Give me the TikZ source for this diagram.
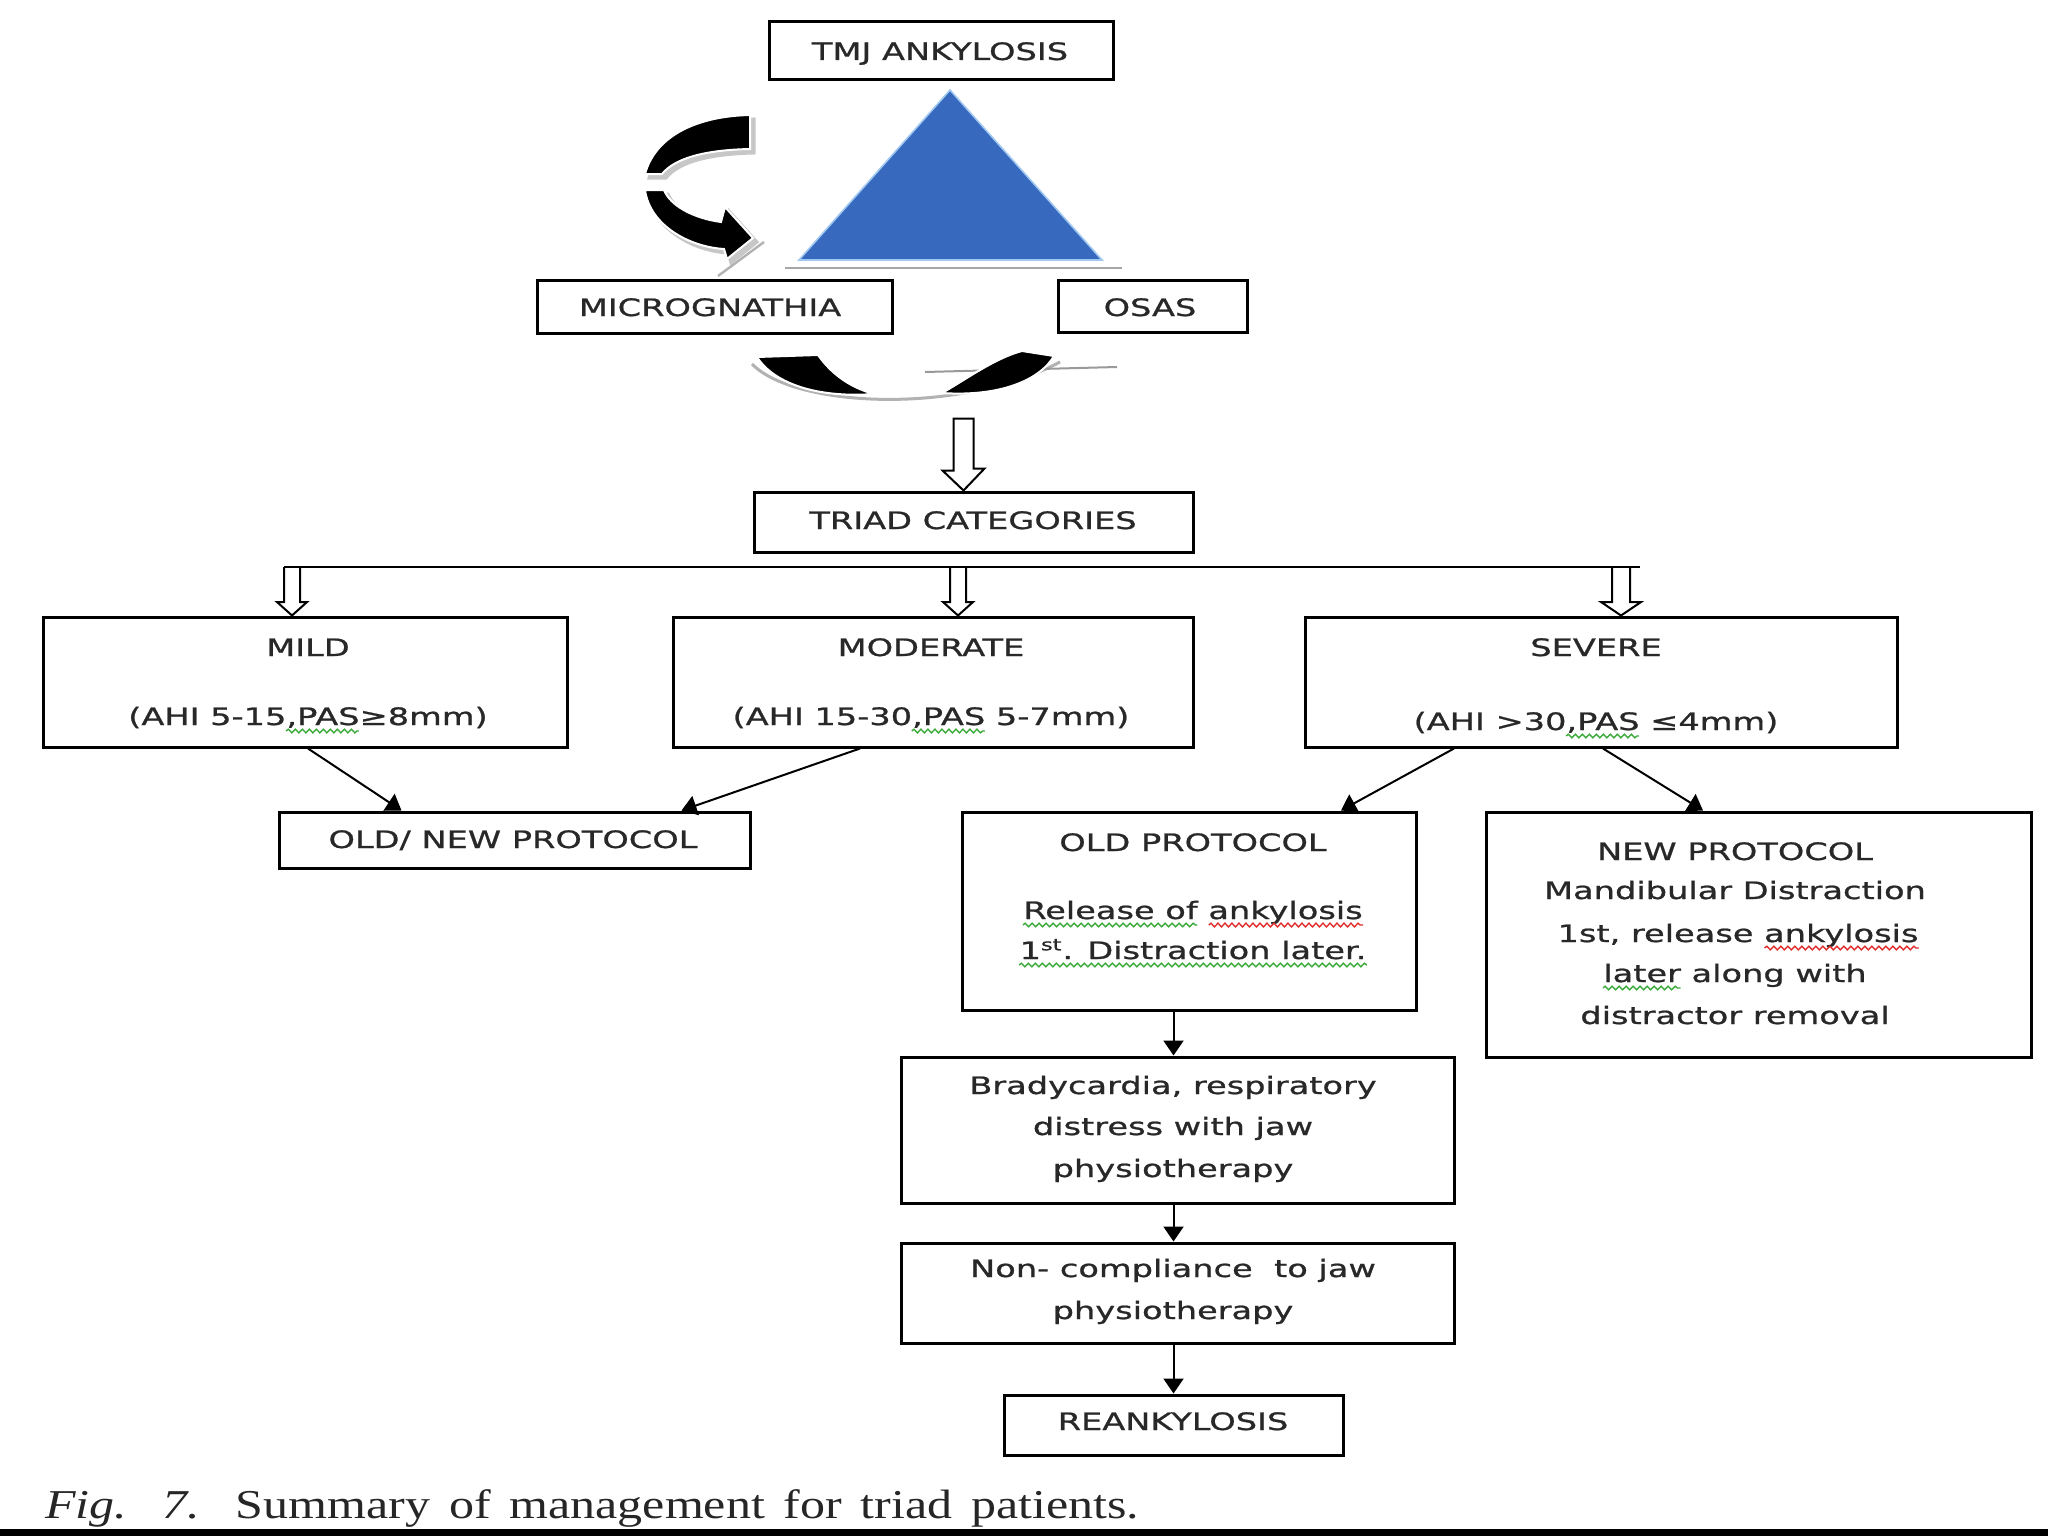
\documentclass[tikz,border=0pt]{standalone}
\usepackage{fontspec}
\newfontfamily\bxfont[FakeStretch=1.4,FakeBold=0.9]{DejaVu Sans}
\newfontfamily\capfont[FakeStretch=1.22]{Liberation Serif}
\usetikzlibrary{arrows.meta,fit,decorations.pathmorphing}
\definecolor{txt}{RGB}{40,40,40}
\definecolor{triblue}{RGB}{55,105,190}
\definecolor{triedge}{RGB}{160,200,240}
\definecolor{sqgreen}{RGB}{60,170,60}
\definecolor{sqred}{RGB}{225,45,45}
\newcommand{\bxsize}{\bxfont\fontsize{12}{20.7}\selectfont}
\newlength\wAnk
\newlength\wRel
\newlength\wLater
\newlength\wMildA
\newlength\wModA
\newlength\wSevA
\newlength\wPas
\begin{document}
\settowidth\wAnk{\bxsize ankylosis}
\settowidth\wRel{\bxsize Release of}
\settowidth\wLater{\bxsize later}
\settowidth\wMildA{\bxsize (AHI 5-15}
\settowidth\wModA{\bxsize (AHI 15-30}
\settowidth\wSevA{\bxsize (AHI >30}
\settowidth\wPas{\bxsize ,PAS}
\begin{tikzpicture}[x=0.5pt,y=-0.5pt,
  box/.style={draw=black, line width=1.5pt, inner sep=0pt, fill=white},
  lbl/.style={font=\bxsize, text=txt, anchor=base, inner sep=0pt},
  conn/.style={draw=black, line width=1pt, -{Triangle[length=7.5pt,width=10pt]}},
  hollow/.style={draw=black, line width=1pt, fill=white, line join=miter},
  blob/.style={fill=black, draw=white, line width=1pt},
  shade/.style={fill=black!22, draw=black!22, line width=1.5pt},
  squig/.style={decorate, decoration={snake, amplitude=0.9pt, segment length=3.5pt}, line width=0.7pt}
]
\useasboundingbox (0,0) rectangle (2048,1536);
\fill[white] (0,0) rectangle (2048,1536);

% ---------- top triad ----------
\node[box, fit={(769,22)(1113,80)}] (tmj) {};
\node[lbl] (tmjT) at (940,60) {TMJ ANKYLOSIS};

\draw[black!35, line width=1.2pt] (785,268) -- (1122,268);
\filldraw[fill=triblue, draw=triedge, line width=0.8pt] (950,90) -- (1102,260) -- (799,260) -- cycle;

\node[box, fit={(537,280)(892,333)}] (micro) {};
\node[lbl] (microT) at (710,316) {MICROGNATHIA};
\node[box, fit={(1058,280)(1247,332)}] (osas) {};
\node[lbl] (osasT) at (1150,316) {OSAS};

% curved arrow, upper left (shadow then body)
\begin{scope}[shift={(4,4)}]
  \path[shade] (750,115) .. controls (700,116) and (656,134) .. (645,174) -- (662,174) .. controls (675,158) and (705,150) .. (750,149) -- cycle;
  \path[shade] (645,190) .. controls (650,226) and (690,247) .. (724,249) -- (727,259) -- (753,238) -- (725,207) -- (721,222) .. controls (692,218) and (670,205) .. (664,190) -- cycle;
\end{scope}
\path[blob] (750,115) .. controls (700,116) and (656,134) .. (645,174) -- (662,174) .. controls (675,158) and (705,150) .. (750,149) -- cycle;
\path[blob] (645,190) .. controls (650,226) and (690,247) .. (724,249) -- (727,259) -- (753,238) -- (725,207) -- (721,222) .. controls (692,218) and (670,205) .. (664,190) -- cycle;
\draw[black!30, line width=1.2pt] (764,242) -- (718,276);

% curved arrow, bottom
\draw[black!30, line width=1.5pt] (752,364) .. controls (795,408) and (960,415) .. (1060,362);
\draw[black!40, line width=1pt] (925,372) -- (1117,367);
\path[blob] (757,357) -- (818,355) .. controls (830,372) and (848,387) .. (874,394) .. controls (820,398) and (775,385) .. (757,357) -- cycle;
\path[blob] (942,393) .. controls (965,380) and (995,358) .. (1022,351) -- (1054,356) .. controls (1040,380) and (1000,397) .. (942,393) -- cycle;

% ---------- categories ----------
\node[box, fit={(754,492)(1193,552)}] (triad) {};
\node[lbl] (triadT) at (973,529) {TRIAD CATEGORIES};

\draw[hollow] ([xshift=-5pt]triad.north) ++(-10,-72) -- ++(20,0) -- ++(0,50) -- ++(11,0) -- ([xshift=-5pt]triad.north) -- ++(-21,-20) -- ++(11,0) -- cycle;

\node[box, fit={(43,617)(567,747)}] (mild) {};
\node[lbl] (mildT1) at (308,656) {MILD};
\node[lbl] (mildT2) at (308,725) {(AHI 5-15,PAS≥8mm)};

\node[box, fit={(673,617)(1193,747)}] (mod) {};
\node[lbl] (modT1) at (931,656) {MODERATE};
\node[lbl] (modT2) at (931,725) {(AHI 15-30,PAS 5-7mm)};

\node[box, fit={(1305,617)(1897,747)}] (sev) {};
\node[lbl] (sevT1) at (1596,656) {SEVERE};
\node[lbl] (sevT2) at (1596,730) {(AHI >30,PAS ≤4mm)};

% branch line and hollow mini arrows
\coordinate (hl) at (284,567);
\coordinate (hr) at (1640,567);
\draw[black, line width=1.2pt] (hl) -- (hr);
\foreach \c/\w/\h/\nm in {292/8/15/mild, 958/8/15/mod, 1621/9/20/sev}{
  \fill[white] (\c-\w,569) -- (\c-\w,602) -- (\c-\h,602) -- (\c,615) -- (\c+\h,602) -- (\c+\w,602) -- (\c+\w,569) -- cycle;
  \draw[black, line width=1pt, line join=miter] (\c-\w,567) -- (\c-\w,602) -- (\c-\h,602) -- (\nm.north -| \c,615) -- (\c+\h,602) -- (\c+\w,602) -- (\c+\w,567);
}

% ---------- protocols ----------
\node[box, fit={(279,812)(750,868)}] (olnew) {};
\node[lbl] (olnewT) at (513,848) {OLD/ NEW PROTOCOL};

\node[box, fit={(962,812)(1416,1010)}] (oldp) {};
\node[lbl] (oldT1) at (1193,851) {OLD PROTOCOL};
\node[lbl] (oldT2) at (1193,919) {Release of ankylosis};
\node[lbl] (oldT3) at (1193,959) {1\textsuperscript{st}. Distraction later.};

\node[box, fit={(1486,812)(2031,1057)}] (newp) {};
\node[lbl] (newT1) at (1735,860) {NEW PROTOCOL};
\node[lbl] (newT2) at (1735,899) {Mandibular Distraction};
\node[lbl] (newT3) at (1738,942) {1st, release ankylosis};
\node[lbl] (newT4) at (1735,982) {later along with};
\node[lbl] (newT5) at (1735,1024) {distractor removal};

\node[box, fit={(901,1057)(1454,1203)}] (brady) {};
\node[lbl] (bradyT1) at (1173,1094) {Bradycardia, respiratory};
\node[lbl] (bradyT2) at (1173,1135) {distress with jaw};
\node[lbl] (bradyT3) at (1173,1177) {physiotherapy};

\node[box, fit={(901,1243)(1454,1343)}] (noncomp) {};
\node[lbl] (nonT1) at (1173,1277) {Non- compliance\ \ to jaw};
\node[lbl] (nonT2) at (1173,1319) {physiotherapy};

\node[box, fit={(1004,1395)(1343,1455)}] (rean) {};
\node[lbl] (reanT) at (1173,1430) {REANKYLOSIS};

% ---------- spell-check squiggles ----------
\draw[squig, sqgreen] ([xshift=\wMildA, yshift=-3pt]mildT2.base west) -- ++(\wPas,0pt);
\draw[squig, sqgreen] ([xshift=\wModA, yshift=-3pt]modT2.base west) -- ++(\wPas,0pt);
\draw[squig, sqgreen] ([xshift=\wSevA, yshift=-3pt]sevT2.base west) -- ++(\wPas,0pt);
\draw[squig, sqgreen] ([yshift=-3pt]oldT2.base west) -- ++(\wRel,0pt);
\draw[squig, sqred] ([xshift=-\wAnk, yshift=-3pt]oldT2.base east) -- ([yshift=-3pt]oldT2.base east);
\draw[squig, sqgreen] ([yshift=-3pt]oldT3.base west) -- ([yshift=-3pt]oldT3.base east);
\draw[squig, sqred] ([xshift=-\wAnk, yshift=-3pt]newT3.base east) -- ([yshift=-3pt]newT3.base east);
\draw[squig, sqgreen] ([yshift=-3pt]newT4.base west) -- ++(\wLater,0pt);

% ---------- connectors ----------
\draw[conn] ([xshift=1.5pt]mild.south) -- ([xshift=62pt]olnew.north west);
\draw[conn] ([xshift=-36.5pt]mod.south) -- ([xshift=-35pt]olnew.north east);
\draw[conn] ([xshift=-73.5pt]sev.south) -- ([xshift=76pt]oldp.north);
\draw[conn] ([xshift=1pt]sev.south) -- ([xshift=-27.75pt]newp.north);
\coordinate (ax) at ([xshift=-2pt]brady.north);
\draw[conn] (ax |- oldp.south) -- (ax);
\draw[conn] (ax |- brady.south) -- (ax |- noncomp.north);
\draw[conn] (ax |- noncomp.south) -- (ax |- rean.north);

% ---------- caption ----------
\node[anchor=base west, inner sep=0pt, text=black!85] (cap) at (45,1518)
  {\capfont\fontsize{20.5}{24}\selectfont\makebox[547pt][s]{\textit{Fig.} \textit{7.} Summary of management for triad patients.}};
\fill[black] (0,1529) rectangle (2048,1536);
\end{tikzpicture}
\end{document}
